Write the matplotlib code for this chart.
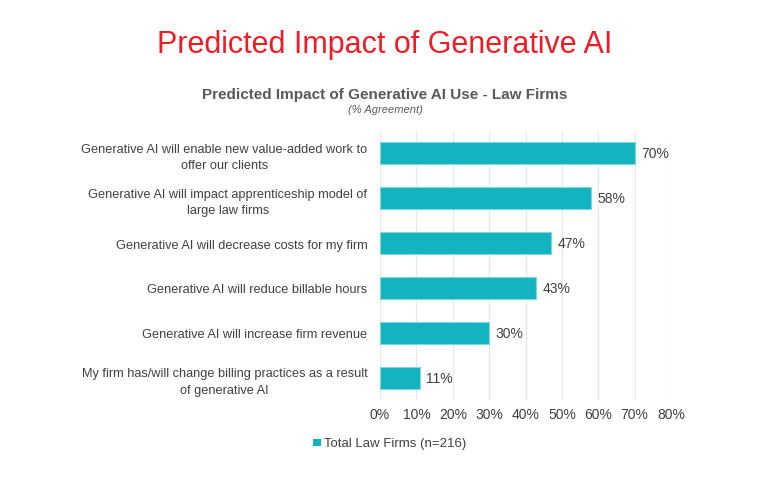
import matplotlib.pyplot as plt
from matplotlib.patches import Rectangle

plt.rcParams['font.family'] = ['Liberation Sans', 'DejaVu Sans']

labels = [
    'Generative AI will enable new value-added work to\noffer our clients',
    'Generative AI will impact apprenticeship model of\nlarge law firms',
    'Generative AI will decrease costs for my firm',
    'Generative AI will reduce billable hours',
    'Generative AI will increase firm revenue',
    'My firm has/will change billing practices as a result\nof generative AI',
]
values = [70, 58, 47, 43, 30, 11]
xticks = [0, 10, 20, 30, 40, 50, 60, 70, 80]
series_name = 'Total Law Firms (n=216)'

bar_color = '#13b4bf'
text_color = '#404040'

fig = plt.figure(figsize=(7.7, 4.89), dpi=100)
ax = fig.add_axes([0.4935, 0.179, 0.378, 0.552])

pos = list(range(len(labels)))
bars = ax.barh(pos, values, height=0.5, color=bar_color, edgecolor='#7fd6dc', linewidth=0.8, zorder=3)

for p, v in zip(pos, values):
    ax.text(v + 1.7, p, f'{v}%', va='center', ha='left', fontsize=10, color=text_color)

ax.set_xlim(0, 80)
ax.set_ylim(len(labels) - 0.5, -0.5)
ax.set_xticks(xticks)
ax.set_xticklabels([f'{t}%' for t in xticks], fontsize=10, color=text_color)
ax.set_yticks(pos)
ax.set_yticklabels(labels, fontsize=9.2, color=text_color, linespacing=1.5,
                   multialignment='center')
ax.tick_params(length=0)
ax.tick_params(axis='y', pad=9)
ax.tick_params(axis='x', pad=5)
ax.grid(axis='x', color='#e8e8e8', linewidth=0.9, zorder=0)
for s in ax.spines.values():
    s.set_visible(False)

fig.text(0.5, 0.908, 'Predicted Impact of Generative AI', ha='center', va='center',
         fontsize=22, color='#ee1c25')
fig.text(0.5, 0.806, 'Predicted Impact of Generative AI Use - Law Firms', ha='center', va='center',
         fontsize=11, fontweight='bold', color='#595959')
fig.text(0.5, 0.776, '(% Agreement)', ha='center', va='center',
         fontsize=8, style='italic', color='#595959')

fig.patches.append(Rectangle((0.407, 0.085), 0.0095, 0.015, transform=fig.transFigure,
                             facecolor=bar_color, edgecolor='none'))
fig.text(0.421, 0.092, series_name, ha='left', va='center', fontsize=9.5, color=text_color)

fig.savefig('out.png', dpi=100)
